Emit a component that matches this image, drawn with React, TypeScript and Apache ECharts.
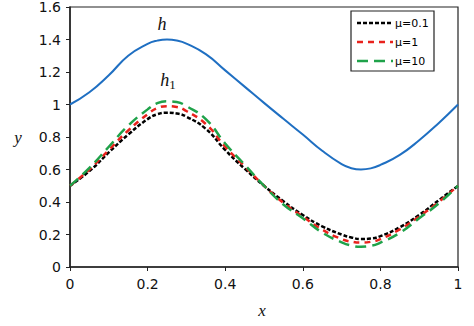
import React, { useEffect, useRef } from "react";
import * as echarts from "echarts";

const xs = [0, 0.05, 0.1, 0.15, 0.2, 0.225, 0.25, 0.275, 0.3, 0.35, 0.4, 0.45, 0.5, 0.55, 0.6, 0.65, 0.7, 0.725, 0.75, 0.775, 0.8, 0.85, 0.9, 0.95, 1];
const hValues = [1.0, 1.075, 1.18, 1.3, 1.373, 1.393, 1.4, 1.394, 1.375, 1.31, 1.21, 1.11, 1.01, 0.912, 0.815, 0.715, 0.633, 0.608, 0.6, 0.607, 0.628, 0.69, 0.78, 0.885, 1.0];
const mu01 = [0.5, 0.59, 0.705, 0.815, 0.91, 0.94, 0.95, 0.945, 0.925, 0.85, 0.72, 0.605, 0.5, 0.405, 0.32, 0.25, 0.2, 0.182, 0.172, 0.175, 0.19, 0.245, 0.32, 0.41, 0.5];
const mu1 = [0.5, 0.6, 0.72, 0.84, 0.94, 0.978, 0.99, 0.985, 0.96, 0.88, 0.74, 0.62, 0.5, 0.395, 0.31, 0.23, 0.172, 0.156, 0.15, 0.155, 0.172, 0.232, 0.31, 0.4, 0.5];
const mu10 = [0.5, 0.61, 0.74, 0.87, 0.97, 1.008, 1.02, 1.015, 0.99, 0.91, 0.76, 0.63, 0.5, 0.385, 0.3, 0.212, 0.152, 0.132, 0.125, 0.13, 0.15, 0.21, 0.3, 0.39, 0.5];
const legendNames = ["μ=0.1", "μ=1", "μ=10"];
const xTicks = { min: 0, max: 1, interval: 0.2 };
const yTicks = { min: 0, max: 1.6, interval: 0.2 };

const pairs = (ys: number[]) => xs.map((x, i) => [x, ys[i]]);

export default function App() {
  const ref = useRef<HTMLDivElement>(null);
  useEffect(() => {
    if (!ref.current) return;
    const chart = echarts.init(ref.current, null, { renderer: "svg" });
    const axisFont = { fontFamily: "DejaVu Sans", fontSize: 14, color: "#111" };
    const dashes = [
      { name: legendNames[0], data: mu01, color: "#000000", dash: [4, 2] },
      { name: legendNames[1], data: mu1, color: "#e8221c", dash: [6, 5] },
      { name: legendNames[2], data: mu10, color: "#1fa24a", dash: [11, 6] },
    ];
    const legendGraphics: any[] = [
      {
        type: "rect",
        shape: { x: 351, y: 11, width: 83, height: 60 },
        style: { fill: "#fff", stroke: "#222", lineWidth: 1.2 },
        z: 100,
      },
    ];
    dashes.forEach((d, i) => {
      const yy = 23 + i * 19;
      legendGraphics.push({
        type: "line",
        shape: { x1: 357, y1: yy, x2: 393, y2: yy },
        style: { stroke: d.color, lineWidth: 2.5, lineDash: d.dash },
        z: 101,
      });
      legendGraphics.push({
        type: "text",
        x: 395,
        y: yy,
        style: { text: d.name, font: "11px 'DejaVu Sans'", fill: "#000", verticalAlign: "middle" },
        z: 101,
      });
    });
    chart.setOption({
      animation: false,
      grid: { left: 70, right: 16, top: 6, bottom: 59, show: true, borderColor: "#222", borderWidth: 1.2 },
      xAxis: {
        type: "value",
        ...xTicks,
        splitLine: { show: false },
        axisLine: { lineStyle: { color: "#222", width: 1.5 } },
        axisTick: { show: true, inside: false, length: 4, lineStyle: { color: "#222" } },
        axisLabel: { ...axisFont, margin: 10 },
      },
      yAxis: {
        type: "value",
        ...yTicks,
        splitLine: { show: false },
        axisLine: { show: true, lineStyle: { color: "#222", width: 1.5 } },
        axisTick: { show: true, inside: false, length: 4, lineStyle: { color: "#222" } },
        axisLabel: { ...axisFont, margin: 9 },
      },
      series: [
        {
          type: "line",
          name: "h",
          data: pairs(hValues),
          smooth: true,
          symbol: "none",
          lineStyle: { color: "#1f6fc2", width: 2 },
        },
        ...dashes.map((d) => ({
          type: "line",
          name: d.name,
          data: pairs(d.data),
          smooth: true,
          symbol: "none",
          lineStyle: { color: d.color, width: 2.5, type: d.dash },
        })),
      ],
      graphic: [
        {
          type: "text",
          x: 162,
          y: 24,
          style: { text: "h", font: "italic 18px 'Liberation Serif'", fill: "#111", align: "center", verticalAlign: "middle" },
        },
        {
          type: "text",
          x: 168,
          y: 80,
          style: {
            text: "{a|h}{b|1}",
            fill: "#111",
            align: "center",
            verticalAlign: "middle",
            rich: {
              a: { font: "italic 18px 'Liberation Serif'", fill: "#111" },
              b: { font: "13px 'Liberation Serif'", fill: "#111", padding: [8, 0, 0, 0] },
            },
          },
        },
        {
          type: "text",
          x: 18,
          y: 137,
          style: { text: "y", font: "italic 17px 'Liberation Serif'", fill: "#111", align: "center", verticalAlign: "middle" },
        },
        {
          type: "text",
          x: 262,
          y: 310,
          style: { text: "x", font: "italic 17px 'Liberation Serif'", fill: "#111", align: "center", verticalAlign: "middle" },
        },
        ...legendGraphics,
      ],
    });
    return () => chart.dispose();
  }, []);
  return <div ref={ref} style={{ width: 474, height: 326, position: "absolute", left: 0, top: 0, background: "#fff" }} />;
}
